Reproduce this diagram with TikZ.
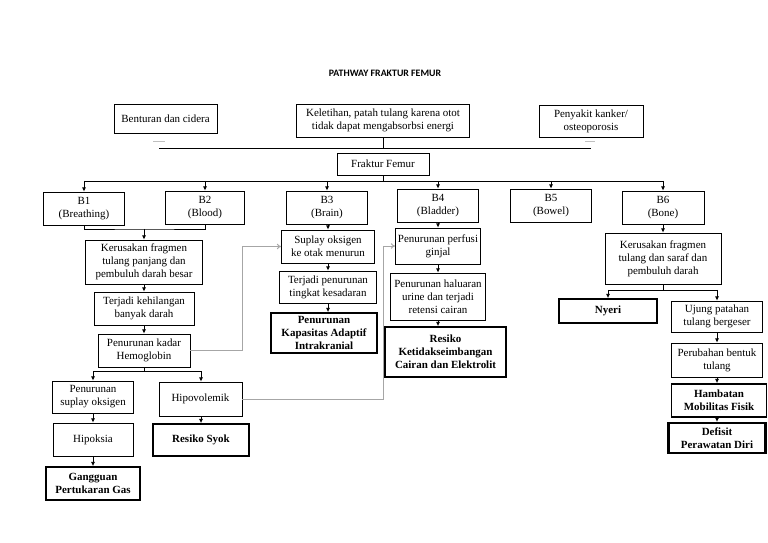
\documentclass[tikz,border=0pt]{standalone}
\usepackage{fontspec}
\setmainfont{Liberation Serif}
\newfontfamily\titlefont{Carlito}
\usetikzlibrary{arrows.meta}

\begin{document}
\begin{tikzpicture}[x=0.025cm, y=-0.025cm,
		box/.style={draw, line width=0.6pt, align=center, inner sep=0pt,
			font=\fontsize{7.8}{9.2}\selectfont},
		diagbox/.style={box, line width=1.3pt, font=\fontsize{7.8}{9.2}\selectfont\bfseries},
		boxsize/.style 2 args={minimum width=#1*0.025cm, minimum height=#2*0.025cm},
		arr/.style={line width=0.6pt, -{Latex[length=3pt,width=3pt]}},
		garr/.style={line width=0.7pt, gray!70, -{To[length=3pt,width=4pt]}}]
			% page
			\fill[white] (0,0) rectangle (768,543);
			\useasboundingbox (0,0) rectangle (768,543);
			\node[font=\titlefont\fontsize{7}{8}\selectfont\bfseries] (title) at (385,73) {PATHWAY FRAKTUR FEMUR};
			
			% causes
			\node[box, boxsize={103}{29}] (bent) at (165.5,118.5) {Benturan dan cidera};
			\node[box, boxsize={173}{33}] (kelet) at (383,120.5) {Keletihan, patah tulang karena otot\\tidak dapat mengabsorbsi energi};
			\node[box, boxsize={104}{32}] (peny) at (591,121) {Penyakit kanker/\\osteoporosis};
			\draw[gray!50] (153,141) -- (165,141);
			\draw[gray!50] (585,141) -- (595,141);
			\coordinate (busT) at (383,148);
			\coordinate (busTl) at (159,148);
			\coordinate (busTr) at (591,148);
			\draw[line width=0.6pt] (busTl) -- (busTr);
			\draw[line width=0.6pt] (kelet.south) -- (busT);
			
			% fraktur femur
			\node[box, boxsize={92}{22}] (frak) at (383,164) {Fraktur Femur};
			\coordinate (busB) at (383,181);
			\draw[line width=0.6pt] (frak.south) -- (busB);
			
			% B1 - B6
			\node[box, boxsize={81}{33}] (b1) at (84,208.5) {B1\\(Breathing)};
			\node[box, boxsize={79}{33}] (b2) at (205,207.5) {B2\\(Blood)};
			\node[box, boxsize={81}{33}] (b3) at (327,207.5) {B3\\(Brain)};
			\node[box, boxsize={81}{33}] (b4) at (438,205.5) {B4\\(Bladder)};
			\node[box, boxsize={81}{33}] (b5) at (551,205.5) {B5\\(Bowel)};
			\node[box, boxsize={82}{33}] (b6) at (663,207.5) {B6\\(Bone)};
			\draw[line width=0.6pt] (b1.north |- busB) -- (b6.north |- busB);
			\foreach \b in {b1,b2,b3,b4,b5,b6}
				\draw[arr] (\b.north |- busB) -- (\b.north);
			
			% breathing / blood
			\node[box, boxsize={117}{44}] (kr1) at (144,262) {Kerusakan fragmen\\tulang panjang dan\\pembuluh darah besar};
			\node[box, boxsize={100}{33}] (tk) at (144,308.5) {Terjadi kehilangan\\banyak darah};
			\node[box, boxsize={92}{33}] (pk) at (144,350.5) {Penurunan kadar\\Hemoglobin};
			\coordinate (j12) at (144,229);
			\draw[line width=0.6pt] (b1.south) |- (j12) -| (b2.south);
			\draw[arr] (j12) -- (kr1.north);
			\draw[arr] (kr1.south) -- (tk.north);
			\draw[arr] (tk.south) -- (pk.north);
			
			\node[box, boxsize={81}{32}] (ps) at (93,397) {Penurunan\\suplay oksigen};
			\node[box, boxsize={83}{34}] (hv) at (200.5,399) {Hipovolemik};
			\node[box, boxsize={80}{33}] (hk) at (93,439.5) {Hipoksia};
			\node[diagbox, boxsize={94}{33}] (gg) at (93,483.5) {Gangguan\\Pertukaran Gas};
			\node[diagbox, boxsize={96}{32}] (rs) at (201,440) {Resiko Syok};
			\coordinate (jpk) at (144,371);
			\draw[line width=0.6pt] (pk.south) -- (jpk);
			\draw[line width=0.6pt] (ps.north |- jpk) -- (rs.north |- jpk);
			\draw[arr] (ps.north |- jpk) -- (ps.north);
			\draw[arr] (rs.north |- jpk) -- (rs.north |- hv.north);
			\draw[arr] (ps.south) -- (hk.north);
			\draw[arr] (hk.south) -- (gg.north);
			\draw[arr] (rs.north |- hv.south) -- (rs.north);
			
			% brain
			\node[box, boxsize={93}{33}] (so) at (328,246.5) {Suplay oksigen\\ke otak menurun};
			\node[box, boxsize={97}{32}] (tp) at (328,287) {Terjadi penurunan\\tingkat kesadaran};
			\node[diagbox, boxsize={106}{40}] (pka) at (324,333) {Penurunan\\Kapasitas Adaptif\\Intrakranial};
			\draw[arr] (b3.south -| so.north) -- (so.north);
			\draw[arr] (so.south) -- (tp.north);
			\draw[arr] (tp.south) -- (tp.south |- pka.north);
			
			% bladder
			\node[box, boxsize={85}{36}] (pp) at (438,246) {Penurunan perfusi\\ginjal};
			\node[box, boxsize={95}{47}] (ph) at (438,296.5) {Penurunan haluaran\\urine dan terjadi\\retensi cairan};
			\node[diagbox, boxsize={121}{50}] (rk) at (445.5,352) {Resiko\\Ketidakseimbangan\\Cairan dan Elektrolit};
			\draw[arr] (b4.south) -- (pp.north);
			\draw[arr] (pp.south) -- (ph.north);
			\draw[arr] (ph.south) -- (ph.south |- rk.north);
			
			% cross links
			\draw[garr] (pk.east) -- ++(52,0) |- (so.west);
			\draw[garr] (hv.east) -- ++(141,0) |- (pp.west);
			
			% bone
			\node[box, boxsize={116}{51}] (kf) at (663,258.5) {Kerusakan fragmen\\tulang dan saraf dan\\pembuluh darah};
			\node[diagbox, boxsize={98}{24}] (ny) at (608,311) {Nyeri};
			\node[box, boxsize={91}{31}] (uj) at (717,316.5) {Ujung patahan\\tulang bergeser};
			\node[box, boxsize={91}{34}] (pb) at (717,360) {Perubahan bentuk\\tulang};
			\node[diagbox, boxsize={95}{33}] (hm) at (719,400.5) {Hambatan\\Mobilitas Fisik};
			\node[diagbox, line width=1.6pt, boxsize={97}{30}] (df) at (717,438) {Defisit\\Perawatan Diri};
			\coordinate (jkf) at (663,290);
			\draw[arr] (b6.south) -- (kf.north);
			\draw[line width=0.6pt] (kf.south) -- (jkf);
			\draw[line width=0.6pt] (ny.north |- jkf) -- (uj.north |- jkf);
			\draw[arr] (ny.north |- jkf) -- (ny.north);
			\draw[arr] (uj.north |- jkf) -- (uj.north);
			\draw[arr] (uj.south) -- (pb.north);
			\draw[arr] (pb.south) -- (pb.south |- hm.north);
			\draw[arr] (pb.south |- hm.south) -- (df.north);
		\end{tikzpicture}
\end{document}
